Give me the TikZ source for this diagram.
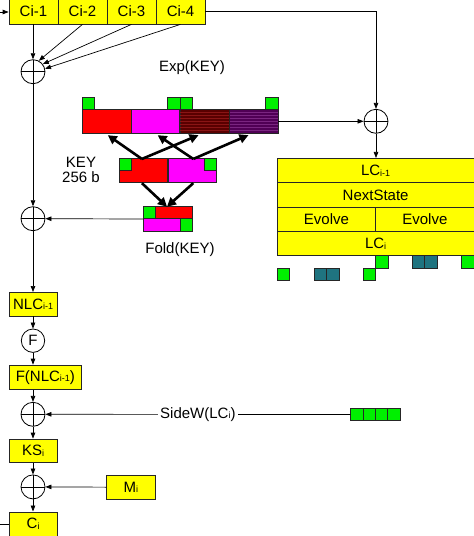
\documentclass[tikz,border=0pt]{standalone}
\usepackage{fontspec}
\setmainfont{Liberation Sans}
\usetikzlibrary{arrows.meta,patterns,calc}
\definecolor{ylw}{HTML}{FFFF00}
\definecolor{grn}{HTML}{00F000}
\definecolor{rd}{HTML}{FF0000}
\definecolor{mg}{HTML}{FF00FF}
\definecolor{drd}{HTML}{5A0000}
\definecolor{drdl}{HTML}{8A1515}
\definecolor{prp}{HTML}{500055}
\definecolor{prpl}{HTML}{7A2580}
\definecolor{tl}{HTML}{1F7480}
\newcommand\sbs[1]{\raisebox{-0.6pt}{\fontsize{9}{9}\selectfont #1}}
\begin{document}
\begin{tikzpicture}[x=1pt,y=-1pt,font=\fontsize{15}{17}\selectfont,
  box/.style={draw=black!85,line width=0.7pt,fill=ylw,inner sep=0pt,anchor=center},
  seg/.style={draw=black!85,line width=0.7pt,inner sep=0pt,minimum height=24pt},
  xor/.style={circle,draw,line width=0.8pt,minimum size=24pt,inner sep=0pt,
    path picture={\draw[line width=0.8pt] (path picture bounding box.north)--(path picture bounding box.south)
      (path picture bounding box.west)--(path picture bounding box.east);}},
  fc/.style={circle,draw,line width=0.8pt,minimum size=23.4pt,inner sep=0pt},
  arr/.style={line width=0.7pt,-{Triangle[length=6pt,width=4.5pt]}},
  ln/.style={line width=0.7pt},
  thk/.style={line width=2.6pt,-{Triangle[length=9pt,width=9pt]}},
  sq/.style={draw=black!85,line width=0.6pt,fill=grn,minimum size=12.3pt,inner sep=0pt},
  tsq/.style={sq,fill=tl},
  lbl/.style={inner sep=0pt}
]
\useasboundingbox (0,0) rectangle (474,536);

% top row
\node[box,minimum width=49pt,minimum height=25pt] (c1) at (33.5,11.5) {Ci-1};
\node[box,minimum width=49pt,minimum height=25pt] (c2) at (82.5,11.5) {Ci-2};
\node[box,minimum width=49pt,minimum height=25pt] (c3) at (131.5,11.5) {Ci-3};
\node[box,minimum width=49pt,minimum height=25pt] (c4) at (180.5,11.5) {Ci-4};
\coordinate (in) at (0,12);
\draw[arr] (in) -- (in -| c1.west);

% XOR nodes
\node[xor] (x1) at (33,71.7) {};
\node[xor] (x2) at (33,218.7) {};
\node[xor] (x5) at (376,121.3) {};

\draw[arr] (c1.south -| x1) -- (x1.north);
\draw[arr] (c2.south) -- (x1.62);
\draw[arr] (c3.south) -- (x1.38);
\draw[arr] (c4.south) -- (x1.14);
\draw[arr] (c4.east) -| (x5.north);

% Exp(KEY)
\node[lbl] (exptxt) at (192,68) {Exp(KEY)};
\node[seg,fill=rd,minimum width=48.9pt] (e1) at (106.75,121.3) {};
\node[seg,fill=mg,minimum width=48.9pt] (e2) at (155.65,121.3) {};
\node[seg,fill=drd,minimum width=48.9pt,postaction={pattern=horizontal lines,pattern color=drdl}] (e3) at (204.55,121.3) {};
\node[seg,fill=prp,minimum width=48.9pt,postaction={pattern=horizontal lines,pattern color=prpl}] (e4) at (253.45,121.3) {};
\draw[draw=black!85,line width=0.7pt] (e3.north west) rectangle (e4.south east) (e3.north east) -- (e3.south east);
\node[sq] (g1) at (88.4,103.2) {};
\node[sq] (g2) at (173.8,103.2) {};
\node[sq] (g3) at (186.1,103.2) {};
\node[sq] (g4) at (271.9,103.2) {};
\draw[arr] (e4.east) -- (x5.west);

% KEY
\node[lbl,align=center] (keytxt) at (81,170) {KEY\\[-2pt]256 b};
\node[seg,fill=rd,minimum width=48.85pt] (k1) at (143.4,170.3) {};
\node[seg,fill=mg,minimum width=48.85pt] (k2) at (192.3,170.3) {};
\node[sq] (kg1) at (125.2,164.2) {};
\node[sq] (kg2) at (210.5,164.2) {};

% Fold
\node[sq,minimum width=12.4pt,minimum height=12pt] (f1) at (149.5,212.7) {};
\node[seg,fill=rd,minimum width=36.6pt,minimum height=12pt] (f2) at (174,212.7) {};
\node[seg,fill=mg,minimum width=36.7pt,minimum height=12.3pt] (f3) at (161.65,224.85) {};
\node[sq,minimum width=12.3pt,minimum height=12.3pt] (f4) at (186.15,224.85) {};
\node[lbl] (foldtxt) at (180,250) {Fold(KEY)};
\coordinate (ft) at (167,206.7);

% thick arrows
\draw[thk] ($(k1.north)+(-1.5,1)$) -- ($(e1.south)+(1,1.5)$);
\draw[thk] ($(k1.north)+(-1.5,1)$) -- ($(e3.south)+(-6,1.5)$);
\draw[thk] ($(k2.north)+(1,1)$) -- ($(e2.south)+(2,1.5)$);
\draw[thk] ($(k2.north)+(1,1)$) -- ($(e4.south)+(-5,1.5)$);
\draw[thk] ($(k1.south)+(-1.5,0.5)$) -- (ft);
\draw[thk] ($(k2.south)+(1,0.5)$) -- (ft);

\draw[arr] (f1.south west) -- (x2.east);
\draw[arr] (x1.south) -- (x2.north);

% right block
\node[box,minimum width=196.7pt,minimum height=24.35pt] (r1) at (375.65,170.5) {LC\sbs{i-1}};
\node[box,minimum width=196.7pt,minimum height=24.35pt] (r2) at (375.65,194.85) {NextState};
\node[box,minimum width=98.35pt,minimum height=24.35pt] (r3a) at (326.5,219.2) {Evolve};
\node[box,minimum width=98.35pt,minimum height=24.35pt] (r3b) at (424.85,219.2) {Evolve};
\node[box,minimum width=196.7pt,minimum height=24.35pt] (r4) at (375.65,243.55) {LC\sbs{i}};
\draw[arr] (x5.south) -- (r1.north -| x5);

\node[sq] (b1) at (283.6,274.2) {};
\node[tsq] (b2) at (320.5,274.2) {};
\node[tsq] (b3) at (332.8,274.2) {};
\node[sq] (b4) at (369.5,274.2) {};
\node[sq] (b5) at (381.8,261.9) {};
\node[tsq] (b6) at (418.6,261.9) {};
\node[tsq] (b7) at (430.9,261.9) {};
\node[sq] (b8) at (467.9,261.9) {};

% left column
\node[box,minimum width=48.3pt,minimum height=23.7pt] (nlc) at (33.15,304.2) {NLC\sbs{i-1}};
\node[fc] (f) at (33,340.7) {F};
\node[box,minimum width=72.7pt,minimum height=24.3pt] (fnlc) at (45.35,377.2) {F(NLC\sbs{i-1})};
\node[xor] (x3) at (33,414.3) {};
\node[box,minimum width=48.3pt,minimum height=23.7pt] (ks) at (33.15,450.85) {KS\sbs{i}};
\node[xor] (x4) at (33,486.9) {};
\node[box,minimum width=48.3pt,minimum height=24.3pt] (m) at (130.85,487.15) {M\sbs{i}};
\node[box,minimum width=48.3pt,minimum height=24.3pt] (c) at (33.15,524) {C\sbs{i}};
\coordinate (cin) at (0,524);
\draw[ln] (cin) -- (c.west);

\draw[arr] (x2.south) -- (nlc.north -| x2);
\draw[arr] (nlc.south -| f) -- (f.north);
\draw[arr] (f.south) -- (fnlc.north -| f);
\draw[arr] (fnlc.south -| x3) -- (x3.north);
\draw[arr] (x3.south) -- (ks.north -| x3);
\draw[arr] (ks.south -| x4) -- (x4.north);
\draw[arr] (x4.south) -- (c.north -| x4);
\draw[arr] (m.west) -- (x4.east);

% SideW
\node[sq] (s1) at (356.85,414.5) {};
\node[sq] (s2) at (369.15,414.5) {};
\node[sq] (s3) at (381.45,414.5) {};
\node[sq] (s4) at (393.75,414.5) {};
\draw[arr] (s1.west) -- node[pos=0.5,fill=white,inner sep=2pt] {SideW(LC\sbs{i})} (x3.east);
\end{tikzpicture}
\end{document}
